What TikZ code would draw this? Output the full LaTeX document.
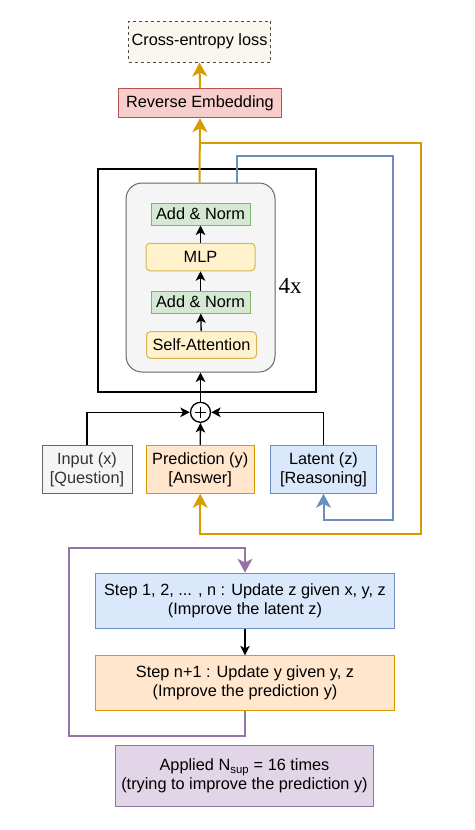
\documentclass[tikz,border=0pt]{standalone}
\usepackage{fontspec}
\setmainfont{Liberation Sans}
\newfontfamily\serifface{Liberation Serif}
\usetikzlibrary{arrows.meta}

\definecolor{ylw}{HTML}{D79B00}
\definecolor{blu}{HTML}{6C8EBF}
\definecolor{prp}{HTML}{9673A6}

\begin{document}
\begin{tikzpicture}[x=1pt,y=-1pt,
  font=\fontsize{16.3}{19.3}\selectfont,
  >={Stealth[length=9.5pt,width=9.5pt,inset=2.5pt]},
  box/.style={draw,rectangle,line width=1pt,align=center,inner sep=0pt},
  blk/.style={->,line width=1.3pt},
  loop/.style={-{Stealth[length=14pt,width=15pt,inset=4pt]},line width=2pt}]
 \useasboundingbox (0,0) rectangle (474,830);

 \node[box,draw=black!70,fill={rgb,255:red,249;green,247;blue,237},dashed,minimum width=142,minimum height=41] (loss) at (199.5,41.5) {Cross-entropy loss};
 \node[box,draw={rgb,255:red,184;green,84;blue,80},fill={rgb,255:red,248;green,206;blue,204},minimum width=163,minimum height=29.5] (revemb) at (200,103) {Reverse Embedding};

 \node[box,line width=1.2pt,minimum width=218,minimum height=223] (stack) at (207,280.5) {};
 \node[box,draw=black!60,fill=black!4,rounded corners=16,minimum width=149,minimum height=189] (core) at (200.5,277.5) {};
 \node[box,draw={rgb,255:red,130;green,179;blue,102},fill={rgb,255:red,213;green,232;blue,212},minimum width=99,minimum height=22] (an2) at (200.5,214) {Add \& Norm};
 \node[box,draw={rgb,255:red,214;green,182;blue,86},fill={rgb,255:red,255;green,242;blue,204},rounded corners=4,minimum width=109,minimum height=27.5] (mlp) at (200.5,257) {MLP};
 \node[box,draw={rgb,255:red,130;green,179;blue,102},fill={rgb,255:red,213;green,232;blue,212},minimum width=99,minimum height=22] (an1) at (200.5,302) {Add \& Norm};
 \node[box,draw={rgb,255:red,214;green,182;blue,86},fill={rgb,255:red,255;green,242;blue,204},rounded corners=4,minimum width=110,minimum height=26.7] (attn) at (201.5,345) {Self-Attention};
 \node (fourx) at (290,286) {\serifface\fontsize{23}{27}\selectfont 4x};
 \foreach \a/\b in {attn/an1, an1/mlp, mlp/an2}
  \draw[blk] (\a) -- (\b);

 \node[draw,circle,line width=1.3pt,minimum size=20,inner sep=0pt] (plus) at (200.5,412.3) {};
 \draw[line width=1.4pt] ([yshift=-5.5]plus.center) -- ([yshift=5.5]plus.center)
  ([xshift=-5.5]plus.center) -- ([xshift=5.5]plus.center);

 \node[box,draw=black!60,fill=black!4,text=black!80,minimum width=90,minimum height=47.6] (inp) at (87,469.5) {Input (x)\\{}[Question]};
 \node[box,draw=ylw,fill={rgb,255:red,255;green,230;blue,204},minimum width=108,minimum height=47.6] (pred) at (200.2,469.5) {Prediction (y)\\{}[Answer]};
 \node[box,draw=blu,fill={rgb,255:red,218;green,232;blue,252},minimum width=106,minimum height=47.6] (lat) at (323.5,469.5) {Latent (z)\\{}[Reasoning]};

 \draw[blk] (inp.north) |- (plus.west);
 \draw[blk] (lat.north) |- (plus.east);
 \draw[blk] (pred.north) -- (plus.south);
 \draw[blk] (plus.north) -- (core.south);

 % outputs fed back
 \coordinate (ybr) at (200,143);
 \coordinate (yturn) at (421,534);
 \coordinate (zout) at (236.7,182.7);
 \coordinate (zturn) at (393.3,155.7);
 \coordinate (zback) at (393.3,520);
 \draw[loop,draw=ylw,fill=ylw] (loss.south |- core.north) -- (revemb.south);
 \draw[loop,draw=ylw,fill=ylw] (revemb.north) -- (loss.south);
 \draw[loop,draw=ylw] (ybr) -| (yturn) -| (pred.south);
 \draw[loop,draw=blu] (zout) |- (zturn) -- (zback) -| (lat.south);

 \node[box,draw=blu,fill={rgb,255:red,218;green,232;blue,252},minimum width=298.6,minimum height=55.7] (stepz) at (245,601) {Step 1, 2, ... , n : Update z given x, y, z\\(Improve the latent z)};
 \node[box,draw=ylw,fill={rgb,255:red,255;green,230;blue,204},minimum width=298.6,minimum height=54.3] (stepy) at (245,683) {Step n+1 : Update y given y, z\\(Improve the prediction y)};
 \node[box,draw=prp,fill={rgb,255:red,225;green,213;blue,231},minimum width=257.6,minimum height=61.7] (applied) at (244.5,776) {Applied N\textsubscript{sup} = 16 times\\(trying to improve the prediction y)};
 \draw[blk] (stepz) -- (stepy);

 \coordinate (loopA) at (69,735.7);
 \coordinate (loopB) at (69,548.3);
 \draw[loop,draw=prp] (stepy.south) |- (loopA) -- (loopB) -| (stepz.north);
\end{tikzpicture}
\end{document}
